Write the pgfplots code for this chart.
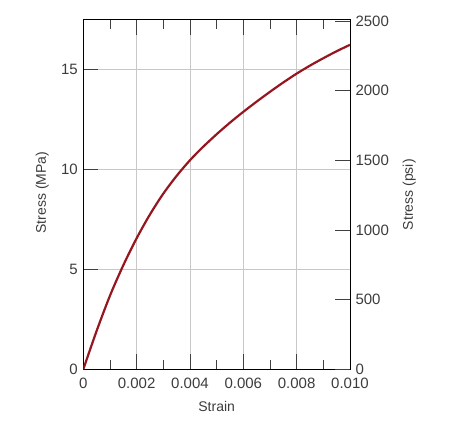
\documentclass[border=0pt]{standalone}
\usepackage{fontspec}
\setmainfont{Liberation Sans}
\usepackage{pgfplots}
\pgfplotsset{compat=1.18}

\definecolor{curvered}{RGB}{150,22,32}
\definecolor{gridgray}{RGB}{200,200,200}
\definecolor{textgray}{RGB}{60,60,60}

\pgfplotsset{
  common/.style={
    scale only axis,
    width=266.7pt, height=349.3pt,
    xmin=0, xmax=0.010,
    scaled x ticks=false,
    major tick length=15pt,
    minor tick length=9pt,
    tick align=inside,
    tick style={color=black!75, line width=0.8pt},
    axis line style={black, line width=1pt},
    tick label style={font=\fontsize{15}{15}\selectfont, text=textgray},
    label style={font=\fontsize{14}{14}\selectfont, text=textgray},
    /pgf/number format/assume math mode=true,
  },
}

\begin{document}
\begin{tikzpicture}
\useasboundingbox (-83.3pt,-52.7pt) rectangle (388.7pt,369.3pt);

\begin{axis}[
  common,
  ymin=0, ymax=17.46,
  xtick={0,0.002,0.004,0.006,0.008,0.010},
  xticklabels={0,0.002,0.004,0.006,0.008,0.010},
  minor xtick={0.001,0.003,0.005,0.007,0.009},
  ytick={0,5,10,15},
  yticklabels={0,5,10,15},
  ytick pos=left,
  grid=major,
  major grid style={color=gridgray, line width=0.7pt},
  xticklabel style={yshift=-5pt},
  yticklabel style={xshift=-2pt},
  xlabel={Strain},
  ylabel={Stress (MPa)},
  xlabel style={at={(axis description cs:0.5,-0.107)}, anchor=center},
  ylabel style={at={(axis description cs:-0.154,0.506)}, anchor=center},
]
\addplot[curvered, line width=2.2pt, smooth] coordinates {
(0,0) (0.0005,1.92) (0.001,3.68) (0.0015,5.2) (0.002,6.55)
(0.0025,7.74) (0.003,8.78) (0.0035,9.67) (0.004,10.45) (0.0045,11.13)
(0.005,11.75) (0.0055,12.33) (0.006,12.87) (0.0065,13.38) (0.007,13.87)
(0.0075,14.34) (0.008,14.78) (0.0085,15.18) (0.009,15.55) (0.0095,15.9)
(0.010,16.22)
};
\end{axis}

\begin{axis}[
  common,
  axis x line=none,
  axis y line*=right,
  ymin=0, ymax=2507,
  ytick={0,500,1000,1500,2000,2500},
  yticklabels={0,500,1000,1500,2000,2500},
  yticklabel style={xshift=2pt},
  ylabel={Stress (psi)},
  ylabel style={at={(axis description cs:1.222,0.5)}, anchor=center},
]
\end{axis}
\end{tikzpicture}
\end{document}
